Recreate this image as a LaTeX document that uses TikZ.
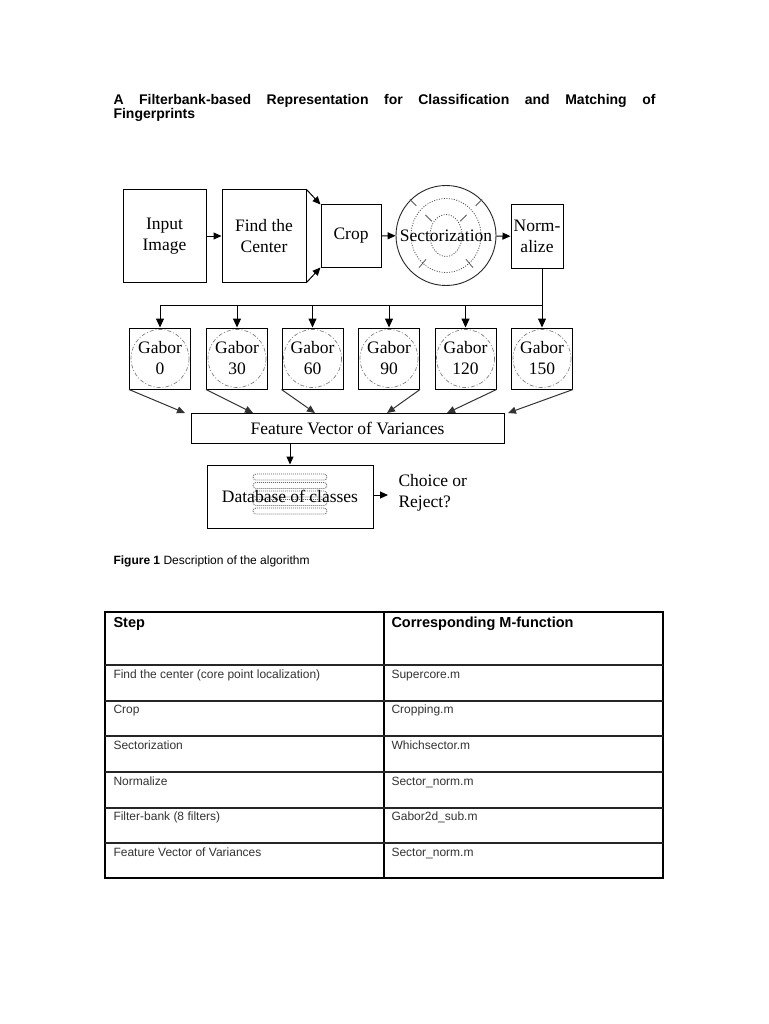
\documentclass[tikz,border=0pt]{standalone}
\usepackage{fontspec}
\setmainfont{Liberation Serif}
\newfontfamily\arialfont{Liberation Sans}
\usetikzlibrary{arrows.meta,calc}
\definecolor{bodytext}{HTML}{333333}
\begin{document}
\begin{tikzpicture}[x=1pt,y=-1pt,line width=1pt,
  fig/.style={font=\fontsize{17.5}{21}\selectfont, align=center, inner sep=0pt},
  box/.style={fig, draw, rectangle},
  arr/.style={-{Triangle[length=8pt,width=7pt]}},
  darr/.style={-{Triangle[length=9pt,width=8pt]}},
  ring/.style={gray, line width=0.7pt, dash pattern=on 4pt off 2pt on 1pt off 2pt},
  dotring/.style={black!70, line width=0.8pt, dash pattern=on 1pt off 1.5pt},
  tick/.style={black!65, line width=0.8pt},
  hdr/.style={font=\arialfont\bfseries\fontsize{14.5}{17}\selectfont, anchor=base west, inner sep=0pt},
  cell/.style={font=\arialfont\fontsize{12}{14}\selectfont, text=bodytext, anchor=base west, inner sep=0pt},
  tline/.style={line width=1.5pt, black!85},
]
\useasboundingbox[fill=white] (0,0) rectangle (768,1024);

% title
\node[anchor=north west, inner sep=0pt, text width=542pt, align=justify,
      font=\arialfont\bfseries\fontsize{14}{14}\selectfont] (title) at (113,93.8)
  {A Filterbank-based Representation for Classification and Matching of\linebreak Fingerprints};

% top row
\node[box, minimum width=83, minimum height=92] (inp) at (164.5,236) {Input\\Image};
\node[box, minimum width=84, minimum height=92] (find) at (264,236) {Find the\\Center};
\node[box, minimum width=60, minimum height=62] (crop) at (351,236) {Crop};
\node[fig, draw=black!85, line width=0.9pt, circle, minimum size=100] (sec) at (446,235.5) {};
\draw[dotring] (sec.center) ellipse[x radius=35, y radius=37];
\draw[dotring] (sec.center) ellipse[x radius=16, y radius=21];
\foreach \a in {50,130}{
  \draw[tick] ($(sec.center)+(\a:31)$) -- ($(sec.center)+(\a:42)$);
}
\foreach \a in {225,315}{
  \draw[tick] ($(sec.center)+(\a:20)$) -- ($(sec.center)+(\a:29)$);
  \draw[tick] ($(sec.center)+(\a:42)$) -- ($(sec.center)+(\a:51)$);
}
\node[fig] (sectext) at (sec.center) {Sectorization};
\node[box, minimum width=52, minimum height=63] (norm) at (537,236.5) {Norm-\\alize};

\draw[arr] (inp) -- (find);
\draw[arr] (find.north east) -- (crop.north west);
\draw[arr] (find.south east) -- (crop.south west);
\draw[arr] (crop) -- (sec);
\draw[arr] (sec) -- (norm);

% gabor filters
\foreach \i/\x/\t in {0/160/0, 1/237/30, 2/312.5/60, 3/389/90, 4/465.5/120, 5/542/150}{
  \draw[ring] (\x,358.5) circle[radius=29];
  \node[box, minimum width=61, minimum height=61] (g\i) at (\x,358.5) {Gabor\\\t};
}
\coordinate (bus) at (0,305);
\draw (g0 |- bus) -- (g5 |- bus);
\draw[darr] (norm.south -| g5) -- (g5.north);
\foreach \i in {0,...,4}{
  \draw[darr] (g\i |- bus) -- (g\i.north);
}

% feature vector
\node[box, minimum width=313, minimum height=30] (feat) at (347.5,428) {Feature Vector of Variances};
\coordinate (f0) at (185,413);
\coordinate (f1) at (253,413);
\coordinate (f2) at (315,413);
\coordinate (f3) at (387,413);
\coordinate (f4) at (447,413);
\coordinate (f5) at (508,413);
\draw[arr, black!80] (g0.south west) -- (f0);
\draw[arr, black!80] (g1.south west) -- (f1);
\draw[arr, black!80] (g2.south west) -- (f2);
\draw[arr, black!80] (g3.south east) -- (f3);
\draw[arr, black!80] (g4.south east) -- (f4);
\draw[arr, black!80] (g5.south east) -- (f5);

% database
\node[box, minimum width=166, minimum height=63] (db) at (290,496.5) {};
\foreach \k in {0,...,4}{
  \draw[black!60, line width=0.8pt, dash pattern=on 1pt off 1pt, rounded corners=3pt]
    (253,{474+8.5*\k}) rectangle (327,{480+8.5*\k});
}
\node[fig] (dbtext) at (db.center) {Database of classes};
\draw[arr] (db.north |- feat.south) -- (db.north);
\node[fig, align=left, anchor=west] (choice) at (398,493) {Choice or\\Reject?};
\coordinate (chin) at (388,495);
\draw[arr] (db.east |- chin) -- (chin);

% caption
\node[anchor=base west, inner sep=0pt, font=\arialfont\fontsize{12}{14}\selectfont] (cap) at (113,564.5)
  {\textbf{Figure 1} Description of the algorithm};

% table
\draw[line width=2pt] (105,612) rectangle (663,878);
\draw[line width=2pt] (384,612) -- (384,878);
\foreach \y in {665,701,736,772,808,843}{
  \draw[tline] (105,\y) -- (663,\y);
}
\node[hdr] (h1) at (113,627) {Step};
\node[hdr] (h2) at (391,627) {Corresponding M-function};
\foreach \n/\y/\a/\b in {1/678/{Find the center (core point localization)}/{Supercore.m},
                          2/713/{Crop}/{Cropping.m},
                          3/749/{Sectorization}/{Whichsector.m},
                          4/785/{Normalize}/{Sector\_norm.m},
                          5/820/{Filter-bank (8 filters)}/{Gabor2d\_sub.m},
                          6/856/{Feature Vector of Variances}/{Sector\_norm.m}}{
  \node[cell] (l\n) at (113,\y) {\a};
  \node[cell] (r\n) at (391,\y) {\b};
}
\end{tikzpicture}
\end{document}
